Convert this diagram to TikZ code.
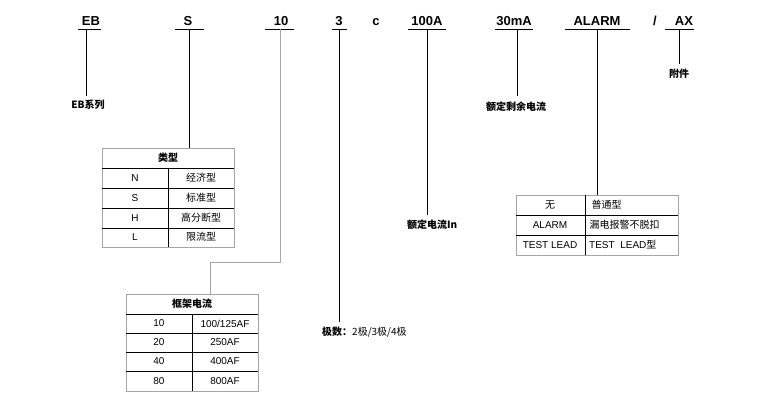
\documentclass[tikz,border=0pt]{standalone}
\usepackage{fontspec}
\setmainfont{Liberation Sans}
\newfontfamily\cjk{Noto Sans CJK SC}
\begin{document}
\begin{tikzpicture}[x=1pt,y=-1pt,
  hd/.style={font=\fontsize{13}{13}\selectfont\bfseries,anchor=base},
  lb/.style={font=\fontsize{10}{10}\selectfont\bfseries\cjk},
  tx/.style={font=\fontsize{10}{10}\selectfont},
  ln/.style={line width=0.9pt,black},
  gl/.style={line width=0.9pt,gray!70},
  tb/.style={line width=0.8pt,black}]
\useasboundingbox (0,0) rectangle (766,413);
% headers
\node[hd] (eb) at (91,25) {EB};
\node[hd] (s) at (188,25) {S};
\node[hd] (ten) at (281,25) {10};
\node[hd] (three) at (339,25) {3};
\node[hd] (c) at (376,25) {c};
\node[hd] (hA) at (427,25) {100A};
\node[hd] (ma) at (514,25) {30mA};
\node[hd] (al) at (597,25) {ALARM};
\node[hd] (sl) at (655,25) {/};
\node[hd] (ax) at (684,25) {AX};
\draw[ln] (78,29)--(101,29); \draw[ln] (175,29)--(204,29);
\draw[ln] (265,29)--(294,29); \draw[ln] (332,29)--(347,29);
\draw[ln] (408,29)--(446,29); \draw[ln] (495,29)--(533,29);
\draw[ln] (565,29)--(630,29); \draw[ln] (665,29)--(694,29);
% EB
\coordinate (e1) at (86,29);
\node[lb,anchor=north] (ebl) at (88,96) {EB系列};
\draw[ln] (e1)--(ebl.north -| e1);
% S table
\coordinate (s1) at (189,29);
\draw[gl] (102,148) rectangle (234,247);
\draw[ln] (s1)--(189,148);
\node[lb] (lx) at (168,158) {类型};
\foreach \y in {168,188,208,228}{\draw[tb] (102,\y)--(234,\y);}
\draw[tb] (168,168)--(168,247);
\foreach \a/\b/\y in {N/经济型/178,S/标准型/198,H/高分断型/218,L/限流型/237}{
 \node[tx] at (135,\y) {\a}; \node[tx,font=\fontsize{10}{10}\selectfont\cjk] at (201,\y) {\b};}
% 10 table
\draw[gl] (280,29)--(280,262)--(210,262)--(210,294);
\draw[gl] (126,294) rectangle (258,391);
\node[lb] (kj) at (192,304) {框架电流};
\foreach \y in {314,333,352,371}{\draw[tb] (126,\y)--(258,\y);}
\draw[tb] (192,314)--(192,391);
\foreach \a/\b/\y in {10/{100/125AF}/323.5,20/250AF/342.5,40/400AF/361.5,80/800AF/381}{
 \node[tx] at (159,\y) {\a}; \node[tx] at (225,\y) {\b};}
% 3
\node[lb,anchor=north west,inner sep=0] (js) at (322,327) {极数：\mdseries 2极/3极/4极};
\draw[ln] (339,29)--(339,322);
% 100A
\node[lb,anchor=north west,inner sep=0] (ed) at (407,220) {额定电流In};
\draw[ln] (427,29)--(427,215);
% 30mA
\node[lb,anchor=north west,inner sep=0] (sy) at (486,102) {额定剩余电流};
\draw[ln] (517,29)--(517,96);
% ALARM table
\draw[ln] (597,29)--(597,195);
\draw[gl] (516,195) rectangle (678,255);
\foreach \y in {215,235}{\draw[tb] (516,\y)--(678,\y);}
\draw[tb] (585,195)--(585,255);
\node[tx,font=\fontsize{10}{10}\selectfont\cjk] at (550,205) {无};
\node[tx,anchor=west,font=\fontsize{10}{10}\selectfont\cjk] at (588,205) {普通型};
\node[tx] at (550,225) {ALARM};
\node[tx,anchor=west,font=\fontsize{10}{10}\selectfont\cjk] at (586,225) {漏电报警不脱扣};
\node[tx,inner sep=0] at (550,245) {TEST LEAD};
\node[tx,anchor=west,inner sep=0] at (589,245) {TEST\ \ LEAD{\cjk 型}};
% AX
\node[lb,anchor=north west,inner sep=0] (fj) at (669,69) {附件};
\draw[ln] (679,29)--(679,64);
\end{tikzpicture}
\end{document}
